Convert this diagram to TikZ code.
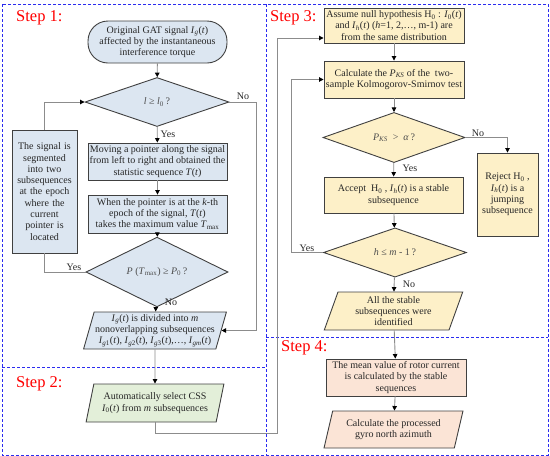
\documentclass[tikz,border=0pt]{standalone}
\usepackage{fontspec}
\setmainfont{Liberation Serif}
\usetikzlibrary{shapes.geometric,arrows.meta,calc}
\definecolor{bluefill}{HTML}{DCE6F1}
\definecolor{yellowfill}{HTML}{FDF0C8}
\definecolor{greenfill}{HTML}{E3EFD9}
\definecolor{pinkfill}{HTML}{FBE4D6}
\definecolor{border}{HTML}{404040}
\definecolor{conn}{HTML}{8C8C8C}
\definecolor{stepblue}{HTML}{2B2BF0}
\newcommand{\iv}[1]{\textit{#1}}
\newcommand{\sbs}[1]{\textsubscript{#1}}
\begin{document}
\begin{tikzpicture}[x=1pt,y=-1pt,
  base/.style={draw=border,line width=0.9pt,text=black!85,font=\fontsize{10}{11.3}\selectfont,align=center,inner sep=1pt},
  term/.style={base,rectangle,rounded corners=20pt},
  decision/.style={base,diamond,inner sep=0pt,text=black!70},
  iobox/.style={base,trapezium,trapezium left angle=73,trapezium right angle=107,trapezium stretches=true},
  conline/.style={draw=conn,line width=0.9pt},
  arr/.style={conline,-{Triangle[length=4.5pt,width=4.5pt,fill=black,color=black]}},
  lbl/.style={font=\fontsize{10}{11}\selectfont,text=black!85,inner sep=0pt},
  steplbl/.style={font=\fontsize{16.5}{20}\selectfont,text=red,inner sep=0pt,anchor=west},
  region/.style={draw=stepblue,dash pattern=on 3pt off 2pt,line width=0.8pt}
]
\useasboundingbox (0,0) rectangle (550,456);
% regions
\draw[region] (2,4) rectangle (548,455);
\draw[region] (266,4) -- (266,455);
\draw[region] (2,367) -- (266,367);
\draw[region] (266,337) -- (548,337);
\node[steplbl] (s1) at (16,18) {Step 1:};
\node[steplbl] (s2) at (16,384) {Step 2:};
\node[steplbl] (s3) at (270,18) {Step 3:};
\node[steplbl] (s4) at (281,348) {Step 4:};

% Step 1
\node[term,fill=bluefill,minimum width=139pt,minimum height=42pt] (start) at (157.5,42)
  {Original GAT signal \iv{I}\sbs{\iv{g}}(\iv{t})\\affected by the instantaneous\\interference torque};
\node[decision,fill=bluefill,minimum width=144pt,minimum height=49pt] (d1) at (157,102)
  {\iv{l} ≥ \iv{l}\sbs{0}\,?};
\node[base,fill=bluefill,minimum width=139pt,minimum height=37pt] (m1) at (157.5,161.5)
  {Moving a pointer along the signal\\from left to right and obtained the\\statistic sequence \iv{T}(\iv{t})};
\node[base,fill=bluefill,minimum width=139pt,minimum height=38pt] (m2) at (157.5,214)
  {When the pointer is at the \iv{k}-th\\epoch of the signal, \iv{T}(\iv{t})\\takes the maximum value \iv{T}\sbs{max}};
\node[decision,fill=bluefill,minimum width=142pt,minimum height=48pt] (d2) at (157,272)
  {\iv{P} (\iv{T}\sbs{max}) ≥ \iv{P}\sbs{0}\,?};
\node[base,fill=bluefill,minimum width=65pt,minimum height=123pt,text width=62pt] (seg) at (44.5,191.5)
  {The signal is\\segmented\\into two\\subsequences\\at the epoch\\where the\\current\\pointer is\\located};
\node[iobox,fill=bluefill,minimum width=138pt,minimum height=37pt] (p1) at (155,330.5)
  {\iv{I}\sbs{\iv{g}}(\iv{t}) is divided into \iv{m}\\nonoverlapping subsequences\\\iv{I}\sbs{\iv{g}1}(\iv{t}), \iv{I}\sbs{\iv{g}2}(\iv{t}), \iv{I}\sbs{\iv{g}3}(\iv{t}),\ldots, \iv{I}\sbs{\iv{gm}}(\iv{t})};

% Step 2
\node[iobox,fill=greenfill,minimum width=138pt,minimum height=38pt] (p2) at (155,403)
  {Automatically select CSS\\\iv{I}\sbs{0}(\iv{t}) from \iv{m} subsequences};

% Step 3
\node[base,fill=yellowfill,minimum width=140pt,minimum height=35pt] (A) at (394,25.5)
  {Assume null hypothesis H\sbs{0} : \iv{I}\sbs{0}(\iv{t})\\and \iv{I}\sbs{\iv{h}}(\iv{t}) (\iv{h}=1, 2,…, m-1) are\\from the same distribution};
\node[base,fill=yellowfill,minimum width=140pt,minimum height=37pt] (B) at (394,79.5)
  {Calculate the \iv{P}\sbs{\iv{KS}} of the\ \ two-\\sample Kolmogorov-Smirnov test};
\node[decision,fill=yellowfill,minimum width=142pt,minimum height=49pt] (C) at (394,137.5)
  {\iv{P}\sbs{\iv{KS}}\ \ >\ \ \iv{α}\,?};
\node[base,fill=yellowfill,minimum width=61pt,minimum height=83pt] (R) at (507.5,194.5)
  {Reject H\sbs{0} ,\\\iv{I}\sbs{\iv{h}}(\iv{t}) is a\\jumping\\subsequence};
\node[base,fill=yellowfill,minimum width=139pt,minimum height=36pt] (D) at (393.5,195)
  {Accept\ \ H\sbs{0} , \iv{I}\sbs{\iv{h}}(\iv{t}) is a stable\\subsequence};
\node[decision,fill=yellowfill,minimum width=143pt,minimum height=49pt] (E) at (395,252.5)
  {\iv{h} ≤ \iv{m} - 1\,?};
\node[iobox,fill=yellowfill,minimum width=139pt,minimum height=38pt] (F) at (393.5,311)
  {All the stable\\subsequences were\\identified};

% Step 4
\node[base,fill=pinkfill,minimum width=140pt,minimum height=37pt] (G) at (396,377.5)
  {The mean value of rotor current\\is calculated by the stable\\sequences};
\node[iobox,fill=pinkfill,minimum width=139pt,minimum height=37pt] (H) at (393.5,429.5)
  {Calculate the processed\\gyro north azimuth};

% coordinates
\coordinate (c1) at (256,102);
\coordinate (c4) at (277,433);
\coordinate (Ain) at (A.west |- 0,38);
\coordinate (c6) at (291,252.5);

% connectors Step 1
\draw[arr] (start) -- (d1);
\draw[arr] (d1) -- (m1);
\draw[arr] (m1) -- (m2);
\draw[arr] (m2) -- (d2);
\draw[arr] (d2) -- (p1);
\draw[conline] (d2.west) -| (seg.south);
\draw[arr] (seg.north) |- (d1.west);
\draw[arr] (d1.east) -| (c1) |- (p1.east);
\draw[arr] (p1) -- (p2);
\draw[arr] (p2.south) |- (c4) |- (Ain);
% Step 3
\draw[arr] (A) -- (B);
\draw[arr] (B) -- (C);
\draw[arr] (C) -- (D);
\draw[arr] (C.east) -| (R.north);
\draw[arr] (D) -- (E);
\draw[arr] (E.west) -| (c6) |- (B.west);
\draw[arr] (E) -- (F);
\draw[arr] (F) -- (G);
\draw[arr] (G) -- (H);

% labels
\node[lbl] (n1) at (243,96) {No};
\node[lbl] (y1) at (168,134) {Yes};
\node[lbl] (y2) at (74,267) {Yes};
\node[lbl] (n2) at (171,302) {No};
\node[lbl] (y3) at (410,168) {Yes};
\node[lbl] (n3) at (478,133) {No};
\node[lbl] (y4) at (307,248.5) {Yes};
\node[lbl] (n4) at (409,284) {No};
\end{tikzpicture}
\end{document}
